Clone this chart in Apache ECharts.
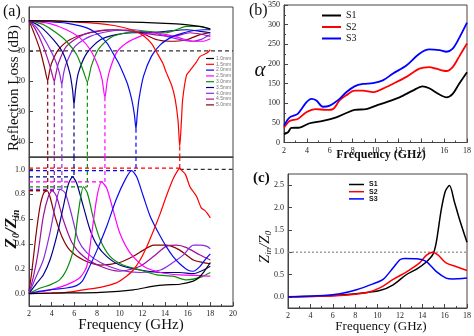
<!DOCTYPE html>
<html>
<head>
<meta charset="utf-8">
<script src="https://cdn.jsdelivr.net/npm/echarts@6/dist/echarts.min.js"></script>
<style>
html,body{margin:0;padding:0;background:#fff}
#chart{width:474px;height:336px}
</style>
</head>
<body>
<div id="chart"></div>
<script>
// ---- (a) reflection loss and impedance matching for each absorber thickness ----
const thicknesses = ['1.0mm', '1.5mm', '2.0mm', '2.5mm', '3.0mm', '3.5mm', '4.0mm', '4.5mm', '5.0mm'];

// reflection loss magnitude (dB) vs frequency (GHz)
const rl10 = [[2,0],[4,0.1],[6,0.3],[8,0.3],[10,0.4],[12,0.6],[14,0.9],[15,1.1],[16,1.4],[17,1.9],[18,2.7]];
const rl15 = [[2,0],[4,0.1],[6,0.4],[8,0.9],[9.5,1.6],[10.6,2.5],[11.4,3.5],[12.1,5],[12.8,7.5],[13.3,10.7],[13.8,14],[14.1,17],[14.6,21.5],[14.9,26],[15.15,33],[15.3,41.5],[15.45,33],[15.56,26],[15.9,18],[16.2,16.5],[16.5,15],[16.8,13.5],[17.1,11.8],[17.7,10.7],[18,9.6]];
const rl20 = [[2,0],[3.5,0.3],[5.3,0.8],[6.2,1.5],[7.1,2.4],[7.7,3.5],[8.3,5.2],[8.9,7.5],[9.4,10.7],[9.9,14],[10.3,17.3],[10.7,21],[11.06,26],[11.3,31],[11.44,35.7],[11.55,31],[11.7,26],[12.1,18.4],[12.8,11.8],[13.6,7.9],[14.7,5.2],[15.5,4.2],[16.2,3.5],[17.4,3],[18,3]];
const rl25 = [[2,0],[3.85,1],[5.3,3],[6.5,5.7],[7.4,9.6],[8.1,15],[8.45,19.5],[8.7,25.3],[8.9,20],[9.15,16],[9.7,10.7],[10.6,7.4],[11.8,5.2],[13,4],[14.1,4.6],[15.3,5.7],[16.5,6.8],[17.4,6.8],[18,6]];
const rl30 = [[2,0],[2.6,0.5],[3.26,1.3],[4.4,4],[5.3,6.8],[6.2,11.2],[6.8,16.7],[7.15,20.2],[7.5,15],[8.1,9.6],[9.15,5.7],[10.6,4],[12.4,3.5],[14.1,4],[15,3],[15.9,1.9],[17.1,1.9],[18,3]];
const rl35 = [[2,0],[2.97,1.9],[4.15,6.3],[5,10.7],[5.6,17.3],[5.85,23],[5.97,27.7],[6.1,23],[6.35,17.3],[7.1,10.7],[8.3,6.3],[9.7,4.6],[11.2,4],[12.7,4],[14.1,3.5],[15.9,3],[17,3.5],[18,4]];
const rl40 = [[2,0],[2.7,2.4],[3.56,7.4],[4.3,12.9],[4.7,17.5],[4.9,21],[5.05,17.5],[5.3,14],[6.06,8.5],[7.4,5.2],[9.15,3.5],[11.2,3],[13,4],[14.7,5.7],[16.5,6.8],[17.2,6.2],[17.7,5.2],[18,4.6]];
const rl45 = [[2,0],[2.5,2.4],[3.26,8.5],[3.85,15],[4.1,18.5],[4.23,20],[4.35,18],[4.6,14],[5.3,8.5],[6.8,4.6],[8.85,3],[11.2,3.5],[13,4.6],[14.7,5.2],[16.2,4],[17.2,4.5],[18,5.2]];
const rl50 = [[2,0],[2.38,3.5],[2.97,9.6],[3.4,16],[3.65,19.8],[3.8,17],[4,14],[4.6,9.6],[5.6,6.3],[7.4,4],[9.7,3],[11.8,4],[13.3,6.3],[14.4,6.8],[15.9,6.3],[17.1,4.6],[18,4]];

// normalized input impedance Z0/Zin vs frequency (GHz)
const z10 = [[2,0],[5.3,0.005],[8.3,0.01],[11.2,0.03],[13,0.06],[14.1,0.07],[15.3,0.075],[16.5,0.1],[17,0.13],[17.4,0.17],[18,0.25]];
const z15 = [[2,0],[4,0.005],[5.3,0.01],[6.8,0.03],[8.3,0.05],[9.7,0.086],[10.6,0.14],[11.2,0.19],[11.8,0.27],[12.4,0.38],[13,0.51],[13.6,0.65],[14.1,0.78],[14.7,0.92],[15.05,0.98],[15.3,1.01],[15.5,0.99],[15.8,0.96],[16.2,0.86],[16.5,0.82],[16.8,0.78],[17.2,0.69],[17.5,0.67],[17.7,0.65],[18,0.61]];
const z20 = [[2,0],[3,0.02],[3.85,0.03],[5.3,0.045],[6.2,0.064],[6.7,0.1],[7.1,0.17],[8,0.35],[8.85,0.54],[9.7,0.76],[10.5,0.92],[11.06,0.99],[11.5,0.94],[12.1,0.78],[12.7,0.62],[13.3,0.51],[14.1,0.38],[14.7,0.3],[15.3,0.24],[16,0.19],[16.5,0.18],[17.1,0.22],[17.6,0.28],[18,0.32]];
const z25 = [[2,0],[3.85,0.03],[5.3,0.07],[6.5,0.13],[7.1,0.22],[7.5,0.46],[8,0.78],[8.4,0.9],[8.85,0.85],[9.4,0.68],[10,0.49],[10.9,0.33],[12.1,0.22],[13.6,0.17],[15.3,0.15],[17.1,0.145],[18,0.14]];
const z30 = [[2,0],[3,0.045],[3.85,0.07],[4.7,0.11],[5.3,0.19],[5.9,0.35],[6.35,0.65],[6.8,0.86],[7.15,0.81],[7.7,0.6],[8.3,0.43],[9.15,0.3],[10.3,0.23],[11.8,0.19],[13.3,0.15],[14.7,0.14],[15.9,0.11],[17.1,0.13],[18,0.17]];
const z35 = [[2,0],[2.7,0.086],[3.26,0.15],[3.85,0.27],[4.44,0.46],[5.03,0.7],[5.47,0.88],[5.85,0.94],[6.2,0.89],[6.8,0.7],[7.4,0.51],[8,0.39],[8.85,0.3],[10,0.23],[11.8,0.19],[13.6,0.17],[15.3,0.17],[16.5,0.16],[17.4,0.19],[18,0.22]];
const z40 = [[2,0],[2.5,0.11],[3.26,0.27],[3.85,0.49],[4.3,0.7],[4.75,0.84],[5.2,0.81],[5.8,0.62],[6.35,0.43],[7.1,0.33],[8.3,0.25],[10,0.19],[11.8,0.17],[13.6,0.19],[14.7,0.25],[15.6,0.31],[16.5,0.39],[17.1,0.39],[17.7,0.38],[18,0.36]];
const z45 = [[2,0],[2.4,0.14],[2.8,0.33],[3.26,0.62],[3.7,0.78],[4.05,0.83],[4.44,0.78],[5,0.6],[5.8,0.41],[6.8,0.3],[8.3,0.22],[10,0.18],[11.8,0.22],[13,0.3],[14.1,0.38],[15,0.39],[15.9,0.37],[17.1,0.31],[18,0.27]];
const z50 = [[2,0.02],[2.24,0.17],[2.6,0.46],[2.97,0.7],[3.3,0.81],[3.6,0.83],[3.85,0.78],[4.3,0.62],[4.9,0.46],[5.6,0.35],[6.8,0.27],[8.3,0.23],[10,0.25],[11.2,0.3],[12.1,0.35],[13,0.39],[14.1,0.39],[15.3,0.35],[16.5,0.27],[17.4,0.25],[18,0.24]];

// absorption peak of each thickness: frequency (GHz), RL depth (dB), Z0/Zin at the peak
const dipFreq = [null, 15.3, 11.44, 8.7, 7.15, 5.97, 4.9, 4.23, 3.65];
const dipLoss = [null, 41.5, 35.7, 25.3, 20.2, 27.7, 21, 20, 19.8];
const peakZ   = [null, 1.01, 0.99, 0.9, 0.86, 0.94, 0.84, 0.83, 0.83];

// ---- (b) attenuation constant ----
const alphaS1 = [[2,21],[2.35,26],[2.64,37],[3.37,38],[4.24,49],[5.4,55],[6.57,64],[7.44,75],[8.17,83],[9.19,85],[10.06,94],[10.9,102],[12.1,115],[13.26,132],[14.1,143],[14.7,138],[15.6,122],[16.2,115],[16.75,124],[17.3,149],[18,179]];
const alphaS2 = [[2,38],[2.5,55],[3.2,60],[3.95,77],[4.8,85],[5.7,83],[6.28,85],[6.86,107],[7.44,120],[8.17,132],[8.9,132],[9.77,128],[10.64,137],[11.5,149],[12.7,167],[13.84,188],[14.7,192],[15.3,188],[16.2,182],[16.75,192],[17.3,218],[18,252]];
const alphaS3 = [[2,43],[2.5,64],[3.2,73],[3.95,102],[4.4,111],[4.83,107],[5.4,91],[6,94],[6.86,111],[7.44,128],[8.17,143],[8.9,149],[9.77,151],[10.64,158],[11.5,175],[12.7,196],[13.84,226],[14.7,237],[15.6,235],[16.2,231],[16.75,239],[17.3,265],[18,305]];

// ---- (c) Zin/Z0 of the three samples ----
const zS1 = [[2,0],[6.06,0.03],[8.1,0.07],[10.2,0.14],[11.4,0.27],[12.6,0.5],[13.5,0.62],[14.36,0.78],[14.95,0.95],[15.24,1.2],[15.7,1.95],[16.07,2.37],[16.43,2.49],[16.87,2.13],[17.3,1.76],[18,1.22]];
const zS2 = [[2,0],[6.65,0.03],[9,0.09],[10.2,0.2],[11.4,0.39],[12.6,0.56],[13.76,0.76],[14.36,0.93],[14.95,1.0],[15.4,0.94],[16.13,0.76],[17,0.68],[18,0.59]];
const zS3 = [[2,0],[5.2,0.03],[6.65,0.07],[8.13,0.16],[9.6,0.29],[10.5,0.39],[11.4,0.65],[12,0.83],[12.4,0.86],[13.5,0.85],[14.36,0.79],[15.24,0.57],[16.13,0.42],[16.7,0.4],[18,0.42]];

const sampleNames = ['S1', 'S2', 'S3'];
const sampleColors = ['#000000', '#ff0000', '#0000ff'];
const thickColors = ['#000000', '#ff0000', '#0a0af0', '#ff00ff', '#0a8c0a', '#00008c', '#8a2be2', '#a0109e', '#8b0000'];

const SERIF = '"Liberation Serif", "Times New Roman", serif';

const rlCurves = [rl10, rl15, rl20, rl25, rl30, rl35, rl40, rl45, rl50];
const zCurves = [z10, z15, z20, z25, z30, z35, z40, z45, z50];

const series = [];

function dashed(x, y, data, color, dash) {
  series.push({
    type: 'line', xAxisIndex: x, yAxisIndex: y, data: data,
    symbol: 'none', silent: true, z: 1,
    lineStyle: { color: color, width: 1.2, type: dash || [4, 3] }
  });
}

// guide lines in panel (a)
dashed(0, 0, [[2, 10], [20, 10]], '#333');
dashed(1, 1, [[dipFreq[1], 1.0], [20, 1.0]], '#333');
for (let i = 1; i < thicknesses.length; i++) {
  const c = thickColors[i];
  dashed(0, 0, [[dipFreq[i], dipLoss[i]], [dipFreq[i], 45]], c);
  dashed(1, 1, [[dipFreq[i], 1.1], [dipFreq[i], peakZ[i]]], c);
  dashed(1, 1, [[2, peakZ[i]], [dipFreq[i], peakZ[i]]], c);
}

// curves of panel (a)
for (let i = thicknesses.length - 1; i >= 0; i--) {
  const c = thickColors[i];
  series.push({
    type: 'line', name: thicknesses[i], xAxisIndex: 0, yAxisIndex: 0,
    data: rlCurves[i], symbol: 'none', smooth: 0.25, z: 3,
    lineStyle: { color: c, width: 1.2 }, itemStyle: { color: c }
  });
  series.push({
    type: 'line', name: thicknesses[i], xAxisIndex: 1, yAxisIndex: 1,
    data: zCurves[i], symbol: 'none', smooth: 0.25, z: 3,
    lineStyle: { color: c, width: 1.2 }, itemStyle: { color: c }
  });
}

// panel (c) reference level
dashed(3, 3, [[2, 1], [18, 1]], '#888', [2, 2]);

const alphaCurves = [alphaS1, alphaS2, alphaS3];
const zinCurves = [zS1, zS2, zS3];
for (let i = 0; i < 3; i++) {
  series.push({
    type: 'line', name: sampleNames[i], xAxisIndex: 2, yAxisIndex: 2,
    data: alphaCurves[i], symbol: 'none', smooth: 0.3,
    lineStyle: { color: sampleColors[i], width: 1.8 }, itemStyle: { color: sampleColors[i] }
  });
  series.push({
    type: 'line', name: sampleNames[i], xAxisIndex: 3, yAxisIndex: 3,
    data: zinCurves[i], symbol: 'none', smooth: 0.3,
    lineStyle: { color: sampleColors[i], width: 1.5 }, itemStyle: { color: sampleColors[i] }
  });
}

const frame = { show: true, borderColor: '#444', borderWidth: 1, backgroundColor: 'transparent' };
const tickLabel = { fontFamily: SERIF, fontSize: 8, color: '#222', margin: 4 };
const axisLine = { show: true, onZero: false, lineStyle: { color: '#444', width: 1 } };
const tick = { show: true, inside: true, length: 4, lineStyle: { color: '#444' } };
const minor = { show: true, splitNumber: 2, length: 2, lineStyle: { color: '#444' } };

function xAxis(grid, max, labels) {
  return {
    type: 'value', gridIndex: grid, min: 2, max: max, interval: 2,
    axisLine: axisLine, splitLine: { show: false },
    axisTick: labels ? tick : { show: false },
    minorTick: labels ? minor : { show: false },
    axisLabel: labels ? tickLabel : { show: false }
  };
}

function yAxisCustom(grid, min, max, values, digits, inverse) {
  return {
    type: 'value', gridIndex: grid, min: min, max: max, inverse: !!inverse,
    axisLine: axisLine, splitLine: { show: false },
    axisTick: Object.assign({}, tick, { customValues: values }),
    axisLabel: Object.assign({}, tickLabel, {
      customValues: values,
      formatter: v => Number(v).toFixed(digits)
    })
  };
}

const option = {
  animation: false,
  backgroundColor: '#fff',
  grid: [
    Object.assign({ left: 29, top: 7, width: 204, height: 150 }, frame),
    Object.assign({ left: 29, top: 157, width: 204, height: 149 }, frame),
    Object.assign({ left: 284, top: 5, width: 184, height: 137.5 }, frame),
    Object.assign({ left: 288, top: 174, width: 180, height: 134 }, frame)
  ],
  xAxis: [xAxis(0, 20, false), xAxis(1, 20, true), xAxis(2, 18, true), xAxis(3, 18, true)],
  yAxis: [
    yAxisCustom(0, -4.5, 45, [0, 10, 20, 30, 40], 0, true),
    yAxisCustom(1, -0.1, 1.1, [0, 0.2, 0.4, 0.6, 0.8, 1.0], 1),
    {
      type: 'value', gridIndex: 2, min: 0, max: 350, interval: 50,
      axisLine: axisLine, splitLine: { show: false }, axisTick: tick, minorTick: minor,
      axisLabel: tickLabel
    },
    yAxisCustom(3, -0.25, 2.75, [0, 0.5, 1.0, 1.5, 2.0, 2.5], 1)
  ],
  legend: [
    {
      data: thicknesses, orient: 'vertical', left: 206, top: 56, icon: 'rect',
      itemWidth: 8, itemHeight: 1.2, itemGap: 0.8, padding: 0,
      textStyle: { fontSize: 5, color: '#777', fontFamily: 'Liberation Sans, sans-serif', padding: [0, 0, 0, -3] },
      selectedMode: false
    },
    {
      data: sampleNames, orient: 'vertical', left: 322, top: 10, icon: 'rect',
      itemWidth: 19, itemHeight: 2, itemGap: 0.5, padding: 0,
      textStyle: { fontSize: 10, color: '#111', fontFamily: SERIF, lineHeight: 11 },
      selectedMode: false
    },
    {
      data: sampleNames, orient: 'vertical', left: 349, top: 181, icon: 'rect',
      itemWidth: 15, itemHeight: 1.5, itemGap: 0.2, padding: 0,
      textStyle: { fontSize: 7, color: '#111', fontWeight: 'bold', fontFamily: 'Liberation Sans, sans-serif', lineHeight: 6.5 },
      selectedMode: false
    }
  ],
  graphic: [
    { type: 'text', left: 3, top: 4, style: { text: '(a)', font: '16px ' + SERIF, fill: '#111' } },
    { type: 'text', left: 249, top: 3, style: { text: '(b)', font: '16px ' + SERIF, fill: '#111' } },
    { type: 'text', left: 253, top: 171, style: { text: '(c)', font: 'bold 15px ' + SERIF, fill: '#111' } },
    {
      type: 'text', x: 14, y: 88, rotation: Math.PI / 2,
      style: { text: 'Reflection Loss (dB)', font: '15px ' + SERIF, fill: '#111', align: 'center', verticalAlign: 'middle' }
    },
    {
      type: 'text', x: 12, y: 229, rotation: Math.PI / 2,
      style: {
        text: '{m|Z}{s|0}{m|/Z}{s|in}', align: 'center', verticalAlign: 'middle', fill: '#111',
        rich: {
          m: { font: 'italic bold 17px ' + SERIF, fill: '#111' },
          s: { font: 'italic bold 10px ' + SERIF, fill: '#111', padding: [8, 0, 0, 0] }
        }
      }
    },
    {
      type: 'text', x: 131, y: 325, style: { text: 'Frequency (GHz)', font: '15px ' + SERIF, fill: '#111', align: 'center', verticalAlign: 'middle' }
    },
    {
      type: 'text', x: 260, y: 70, style: { text: 'α', font: 'italic 21px ' + SERIF, fill: '#111', align: 'center', verticalAlign: 'middle' }
    },
    {
      type: 'text', x: 381, y: 155, style: { text: 'Frequency (GHz)', font: 'bold 12px ' + SERIF, fill: '#111', align: 'center', verticalAlign: 'middle' }
    },
    {
      type: 'text', x: 265, y: 247, rotation: Math.PI / 2,
      style: {
        text: '{m|Z}{s|in}{m|/Z}{s|0}', align: 'center', verticalAlign: 'middle', fill: '#111',
        rich: {
          m: { font: 'italic 15px ' + SERIF, fill: '#111' },
          s: { font: 'italic 9px ' + SERIF, fill: '#111', padding: [7, 0, 0, 0] }
        }
      }
    },
    {
      type: 'text', x: 381, y: 327, style: { text: 'Frequency (GHz)', font: '13px ' + SERIF, fill: '#111', align: 'center', verticalAlign: 'middle' }
    }
  ],
  series: series
};

const chart = echarts.init(document.getElementById('chart'), null, { renderer: 'canvas' });
chart.setOption(option);
</script>
</body>
</html>
